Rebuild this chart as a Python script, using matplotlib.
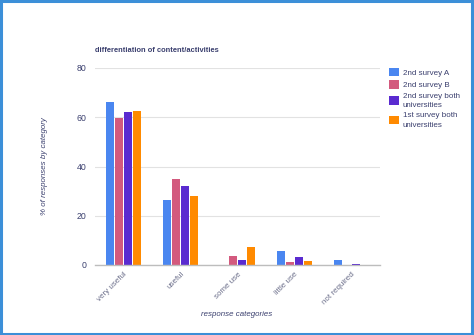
import matplotlib
matplotlib.use("Agg")
import matplotlib.pyplot as plt
from matplotlib.patches import Rectangle
import numpy as np

plt.rcParams['font.family'] = ['Liberation Sans', 'DejaVu Sans']

categories = ["very useful", "useful", "some use", "little use", "not required"]
series_names = ["2nd survey A", "2nd survey B", "2nd survey both\nuniversities", "1st survey both\nuniversities"]
survey2_a = [66, 26.5, 0, 5.5, 2]
survey2_b = [59.5, 35, 3.5, 1.2, 0]
survey2_both = [62, 32, 2, 3.2, 0.5]
survey1_both = [62.5, 28, 7.2, 1.5, 0]
yticks = [0, 20, 40, 60, 80]

colors = ["#4A86F0", "#D35A7E", "#5A2BD0", "#FF8A00"]
text_color = "#3A3F6E"

fig = plt.figure(figsize=(4.74, 3.35), dpi=100)
ax = fig.add_axes([95/474, 1 - 265/335, 285/474, (265 - 68)/335])

x = np.arange(len(categories))
group_w = 0.62
bw = group_w / 4
all_series = [survey2_a, survey2_b, survey2_both, survey1_both]
handles = []
for i, (vals, c, name) in enumerate(zip(all_series, colors, series_names)):
    h = ax.bar(x - group_w/2 + bw*(i + 0.5), vals, width=bw*0.92, color=c, label=name, zorder=3)
    handles.append(h)

ax.set_xlim(-0.5, len(categories) - 0.5)
ax.set_ylim(0, 80)
ax.set_yticks(yticks)
ax.set_yticklabels([str(v) for v in yticks], fontsize=6.3, color=text_color)
ax.yaxis.grid(True, color="#E2E2E2", linewidth=0.8, zorder=0)
ax.tick_params(axis="y", length=0, pad=6)
ax.set_xticks(x)
ax.set_xticklabels(categories, rotation=45, ha="right", rotation_mode="anchor",
                   fontsize=5.8, color="#6B6E8A")
ax.tick_params(axis="x", length=0, pad=4)
for s in ["top", "right", "left"]:
    ax.spines[s].set_visible(False)
ax.spines["bottom"].set_color("#BDBDBD")
ax.spines["bottom"].set_linewidth(1.0)
ax.spines["bottom"].set_zorder(4)

fig.text(95/474, 1 - 51/335, "differentiation of content/activities", fontsize=5.4,
         fontweight="bold", color=text_color, ha="left", va="center")
fig.text(44/474, 1 - 166/335, "% of responses by category", fontsize=5.7, style="italic",
         color=text_color, rotation=90, ha="center", va="center")
fig.text(237/474, 1 - 315/335, "response categories", fontsize=5.7, style="italic",
         color=text_color, ha="center", va="center")

leg = fig.legend(handles=handles, labels=series_names, loc="upper left",
                 bbox_to_anchor=(386/474, 1 - 65/335), frameon=False, fontsize=5.8,
                 handlelength=1.2, handleheight=1.2, handletextpad=0.45,
                 labelspacing=0.42, borderaxespad=0)
for t in leg.get_texts():
    t.set_color(text_color)
    t.set_linespacing(1.45)

fig.patches.append(Rectangle((0.002, 0.004), 0.993, 0.992, transform=fig.transFigure,
                             fill=False, edgecolor="#3C8FD8", linewidth=2.2))

fig.savefig("out.png", dpi=100)
